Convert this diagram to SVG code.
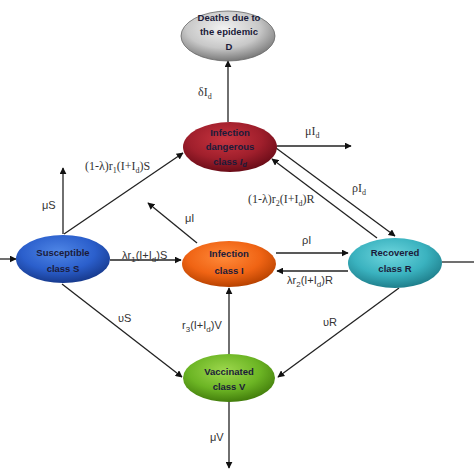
<svg xmlns="http://www.w3.org/2000/svg" width="474" height="474" viewBox="0 0 474 474">
<defs>
<radialGradient id="gD" cx="45%" cy="35%" r="65%"><stop offset="0" stop-color="#f2f2f2"/><stop offset="0.6" stop-color="#c8c8c8"/><stop offset="1" stop-color="#7a7a7a"/></radialGradient>
<radialGradient id="gId" cx="45%" cy="35%" r="65%"><stop offset="0" stop-color="#c8343f"/><stop offset="0.6" stop-color="#a01f2c"/><stop offset="1" stop-color="#6a0c18"/></radialGradient>
<radialGradient id="gS" cx="45%" cy="35%" r="65%"><stop offset="0" stop-color="#4f86e6"/><stop offset="0.6" stop-color="#2b5fcc"/><stop offset="1" stop-color="#173a8e"/></radialGradient>
<radialGradient id="gI" cx="45%" cy="35%" r="65%"><stop offset="0" stop-color="#ff8a3a"/><stop offset="0.6" stop-color="#f06414"/><stop offset="1" stop-color="#b84200"/></radialGradient>
<radialGradient id="gR" cx="45%" cy="35%" r="65%"><stop offset="0" stop-color="#6fd6de"/><stop offset="0.6" stop-color="#3ab2bf"/><stop offset="1" stop-color="#1f7f8c"/></radialGradient>
<radialGradient id="gV" cx="45%" cy="35%" r="65%"><stop offset="0" stop-color="#9ed84e"/><stop offset="0.6" stop-color="#6cb524"/><stop offset="1" stop-color="#437e0c"/></radialGradient>
<marker id="ah" viewBox="0 0 10 10" refX="9" refY="5" markerWidth="7" markerHeight="7" markerUnits="userSpaceOnUse" orient="auto"><path d="M0,0 L10,5 L0,10 z" fill="#111"/></marker>
<style>
.node text{font-family:"Liberation Sans",Arial,sans-serif;font-weight:bold;font-size:9.5px;fill:#1b1b3a;text-anchor:middle}
.edge{stroke:#222;stroke-width:1.3;fill:none}
.arr{marker-end:url(#ah)}
.lbl{font-family:"Liberation Sans",Arial,sans-serif;font-size:11px;fill:#333}
.ser{font-family:"Liberation Serif","Times New Roman",serif;font-size:12px;fill:#333}
.sub{font-size:8px}
</style>
</defs>
<rect width="474" height="474" fill="#fff"/>
<g id="connectors">
<line class="edge arr" x1="0" y1="259" x2="16" y2="259"/>
<line class="edge arr" x1="63" y1="234" x2="63" y2="168"/>
<line class="edge arr" x1="64" y1="234" x2="183" y2="153"/>
<line class="edge arr" x1="110" y1="260" x2="181" y2="260"/>
<line class="edge arr" x1="197" y1="243" x2="148" y2="203"/>
<line class="edge arr" x1="62" y1="284" x2="182" y2="377"/>
<line class="edge arr" x1="229" y1="355" x2="229" y2="288"/>
<line class="edge arr" x1="229" y1="402" x2="229" y2="468"/>
<line class="edge arr" x1="399" y1="288" x2="278" y2="377"/>
<line class="edge" x1="442" y1="262" x2="474" y2="262"/>
<line class="edge arr" x1="276" y1="253" x2="348" y2="253"/>
<line class="edge arr" x1="348" y1="271" x2="277" y2="271"/>
<line class="edge arr" x1="277" y1="146" x2="351" y2="146"/>
<line class="edge arr" x1="276" y1="148" x2="395" y2="236"/>
<line class="edge arr" x1="377" y1="238" x2="272" y2="159"/>
<line class="edge arr" x1="228" y1="122" x2="228" y2="61"/>
<text class="ser" x="198" y="96">δI<tspan class="sub" dy="3">d</tspan></text>
<text class="ser" x="305" y="135">μI<tspan class="sub" dy="3">d</tspan></text>
<text class="ser" x="352" y="192">ρI<tspan class="sub" dy="3">d</tspan></text>
<text class="ser" x="248" y="203" font-size="10.5px">(1-λ)r<tspan class="sub" dy="3">2</tspan><tspan dy="-3">(I+I</tspan><tspan class="sub" dy="3">d</tspan><tspan dy="-3">)R</tspan></text>
<text class="ser" x="85" y="170" font-size="10.5px">(1-λ)r<tspan class="sub" dy="3">1</tspan><tspan dy="-3">(I+I</tspan><tspan class="sub" dy="3">d</tspan><tspan dy="-3">)S</tspan></text>
<text class="lbl" x="42" y="209">μS</text>
<text class="lbl" x="185" y="222">μI</text>
<text class="lbl" x="122" y="259">λr<tspan class="sub" dy="3">1</tspan><tspan dy="-3">(I+I</tspan><tspan class="sub" dy="3">d</tspan><tspan dy="-3">)S</tspan></text>
<text class="lbl" x="302" y="244">ρI</text>
<text class="lbl" x="287" y="284">λr<tspan class="sub" dy="3">2</tspan><tspan dy="-3">(I+I</tspan><tspan class="sub" dy="3">d</tspan><tspan dy="-3">)R</tspan></text>
<text class="lbl" x="118" y="322">υS</text>
<text class="lbl" x="182" y="329">r<tspan class="sub" dy="3">3</tspan><tspan dy="-3">(I+I</tspan><tspan class="sub" dy="3">d</tspan><tspan dy="-3">)V</tspan></text>
<text class="lbl" x="323" y="326">υR</text>
<text class="lbl" x="210" y="441">μV</text>
</g>
<g id="node-D" class="node">
<ellipse cx="228" cy="36" rx="47" ry="25" fill="url(#gD)" stroke="#666" stroke-width="0.8"/>
<text x="229" y="21">Deaths due to</text>
<text x="229" y="35">the epidemic</text>
<text x="229" y="50">D</text>
</g>
<g id="node-Id" class="node">
<ellipse cx="230" cy="147" rx="47" ry="25" fill="url(#gId)"/>
<text x="230" y="136">Infection</text>
<text x="230" y="150">dangerous</text>
<text x="230" y="165">class <tspan font-style="italic">I<tspan font-size="7px" dy="2">d</tspan></tspan></text>
</g>
<g id="node-S" class="node">
<ellipse cx="63" cy="259" rx="47" ry="24" fill="url(#gS)"/>
<text x="63" y="256">Susceptible</text>
<text x="63" y="272">class S</text>
</g>
<g id="node-I" class="node">
<ellipse cx="229" cy="264" rx="47" ry="23" fill="url(#gI)"/>
<text x="229" y="257">Infection</text>
<text x="229" y="274">class I</text>
</g>
<g id="node-R" class="node">
<ellipse cx="395" cy="263" rx="47" ry="25" fill="url(#gR)"/>
<text x="395" y="256">Recovered</text>
<text x="395" y="272">class R</text>
</g>
<g id="node-V" class="node">
<ellipse cx="229" cy="378" rx="46" ry="24" fill="url(#gV)"/>
<text x="229" y="375">Vaccinated</text>
<text x="229" y="390">class V</text>
</g>
</svg>
